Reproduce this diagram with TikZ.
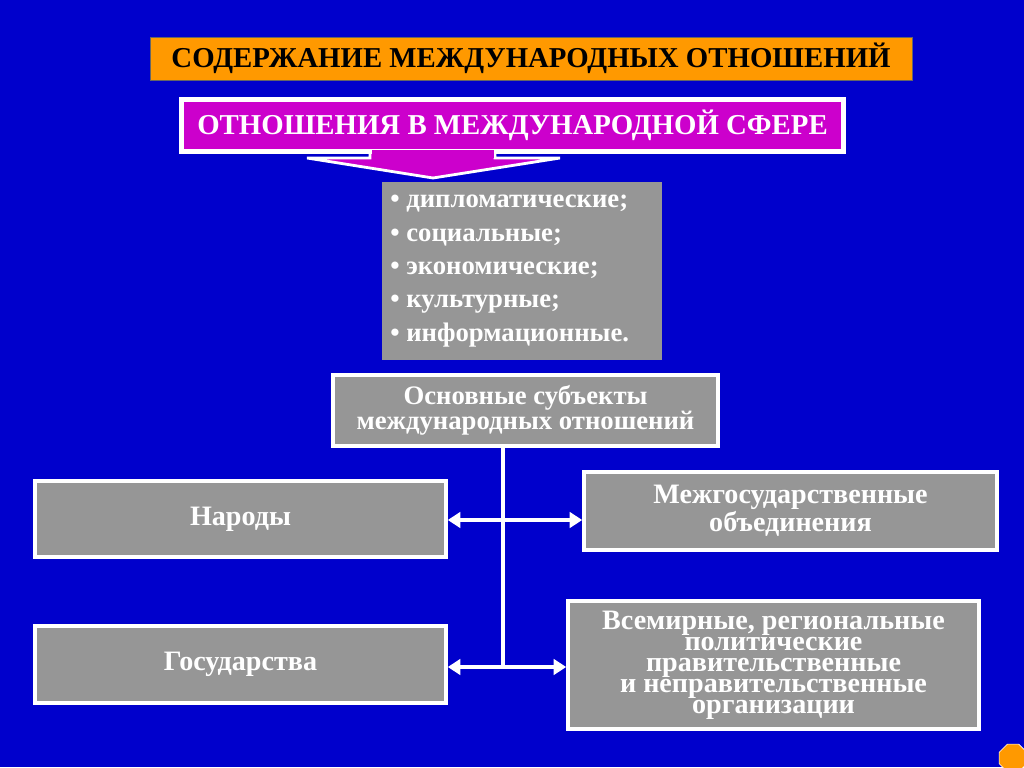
\documentclass[tikz,border=0pt]{standalone}
\usepackage{fontspec}
\setmainfont{Liberation Serif}
\usetikzlibrary{arrows.meta,shapes.geometric}
\definecolor{bgblue}{RGB}{0,0,204}
\definecolor{boxgray}{RGB}{150,150,150}
\definecolor{titleorange}{RGB}{255,153,0}
\definecolor{sphmagenta}{RGB}{204,0,204}
\tikzset{
  graybox/.style={draw=white,line width=2.5pt,fill=boxgray,text=white,font=\fontsize{20}{15}\selectfont\bfseries,align=center,inner sep=0pt},
  link/.style={white,line width=2.8pt},
  linkarrow/.style={link,-{Triangle[length=9pt,width=11pt]}}
}
\begin{document}
\begin{tikzpicture}[x=0.25mm,y=-0.25mm]
   \useasboundingbox (0,0) rectangle (1024,767);
   \fill[bgblue] (0,0) rectangle (1024,767);
   % title
   \node[draw=black!60,fill=titleorange,minimum width=762*0.25mm,minimum height=43*0.25mm,
     font=\fontsize{20.5}{22}\selectfont\bfseries] (title) at (531,58.5) {СОДЕРЖАНИЕ МЕЖДУНАРОДНЫХ ОТНОШЕНИЙ};
   % sphere arrow
   \filldraw[draw=white,fill=sphmagenta,line width=2pt]
     (370,150) -- (370,158) -- (307,158) -- (433,178) -- (560,158) -- (495,158) -- (495,150) -- cycle;
   \node[draw=white,line width=3pt,fill=sphmagenta,text=white,minimum width=662*0.25mm,minimum height=52*0.25mm,
     font=\fontsize{20.5}{22}\selectfont\bfseries] (sphere) at (512.5,125.5) {ОТНОШЕНИЯ В МЕЖДУНАРОДНОЙ СФЕРЕ};
   \fill[sphmagenta] (371.5,150) rectangle (493.5,158);
   % kinds
   \fill[boxgray] (382,182) rectangle (662,360);
   \node[anchor=north west,text=white,align=left,inner sep=0pt,
     font=\fontsize{19}{23.7}\selectfont\bfseries] (kinds) at (390,195) {%
     • дипломатические;\\ • социальные;\\ • экономические;\\ • культурные;\\ • информационные.};
   % subjects
   \node[graybox,minimum width=385*0.25mm,minimum height=71*0.25mm,font=\fontsize{19}{17}\selectfont\bfseries] (subj) at (525.5,410.5)
     {Основные субъекты\\международных отношений};
   \node[graybox,minimum width=411*0.25mm,minimum height=76*0.25mm] (people) at (240.5,519) {Народы};
   \node[graybox,minimum width=413*0.25mm,minimum height=78*0.25mm,font=\fontsize{20}{17}\selectfont\bfseries] (union) at (790.5,511)
     {Межгосударственные\\объединения};
   \node[graybox,minimum width=411*0.25mm,minimum height=128*0.25mm] (orgs) at (773.5,665)
     {Всемирные, региональные\\политические\\правительственные\\и неправительственные\\организации};
   \node[graybox,minimum width=411*0.25mm,minimum height=77*0.25mm] (states) at (240.5,664.5) {Государства};
   % connectors
   \coordinate (top) at (503,446);
   \coordinate (mid) at (503,520);
   \coordinate (bot) at (503,667);
   \draw[link] (top) -- (bot);
   \draw[linkarrow] (mid) -- (people.east |- mid);
   \draw[linkarrow] (mid) -- (union.west |- mid);
   \draw[linkarrow] (bot) -- (states.east |- bot);
   \draw[linkarrow] (bot) -- (orgs.west |- bot);
   % corner mark
   \node[regular polygon,regular polygon sides=8,fill=titleorange,draw=white,thin,minimum size=30*0.25mm,inner sep=0pt] (mark) at (1013,758) {};
\end{tikzpicture}
\end{document}
